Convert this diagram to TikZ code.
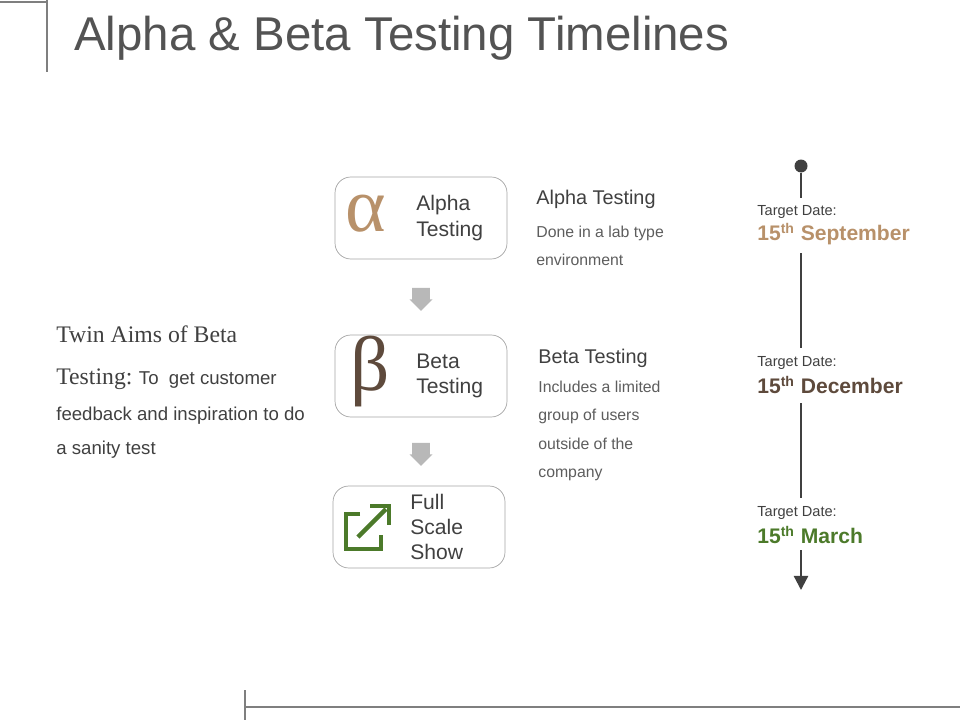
\documentclass[tikz,border=0pt]{standalone}
\usepackage{fontspec}
\setmainfont{Liberation Sans}
\newfontfamily\serifa{Liberation Serif}
\usetikzlibrary{positioning,arrows.meta,shapes.arrows}
\definecolor{alphabrown}{HTML}{B8916A}
\definecolor{betabrown}{HTML}{5E4A3C}
\definecolor{showgreen}{HTML}{4C7A2A}
\definecolor{textgray}{HTML}{404040}
\definecolor{linegray}{HTML}{7F7F7F}
\tikzset{
  stagebox/.style = {draw=linegray!70, rounded corners=9pt, minimum width=3.44cm, minimum height=1.64cm},
  stagelabel/.style = {anchor=west, align=left, font=\fontsize{12}{14.3}\selectfont, text=textgray, inner sep=0pt},
  headtext/.style = {anchor=west, font=\fontsize{11.3}{13}\selectfont, text=textgray, inner sep=0pt},
  desctext/.style = {anchor=north west, align=left, font=\fontsize{9}{16}\selectfont, text=textgray!85, inner sep=0pt},
  datesmall/.style = {anchor=west, font=\fontsize{8.3}{10}\selectfont, text=textgray, inner sep=0pt},
  datebig/.style = {anchor=west, font=\bfseries\fontsize{12}{14}\selectfont, inner sep=0pt},
  downarrow/.style = {single arrow, shape border rotate=270, fill=black!28, minimum width=0.46cm, minimum height=0.46cm, single arrow head extend=0.02cm, single arrow tip angle=90, inner sep=0.06cm},
  timeline/.style = {draw=textgray, line width=1.3pt}
}
\begin{document}
\begin{tikzpicture}[x=0.02cm, y=-0.02cm]
  \useasboundingbox (0,0) rectangle (960,720);
  % frame lines
  \draw[linegray, line width=1pt] (0,2) -- (47,2) (47,0) -- (47,72);
  \draw[linegray, line width=1pt] (245,690) -- (245,720) (245,707) -- (960,707);
  \node[anchor=west, font=\fontsize{27}{30}\selectfont, text=textgray!90, inner sep=0pt] (title) at (74,38) {Alpha \& Beta Testing Timelines};

  % stages
  \node[stagebox] (alphabox) at (421,218) {};
  \node[stagebox] (betabox) at (421,376) {};
  \node[stagebox] (showbox) at (419,527) {};
  \node[text=alphabrown, font=\serifa\fontsize{44}{44}\selectfont, inner sep=0pt] (alphasym) at (366,214) {α};
  \node[text=betabrown, font=\serifa\fontsize{44}{44}\selectfont, inner sep=0pt] (betasym) at (370,372) {β};
  \begin{scope}[showgreen, line width=2.6pt]
    \draw (360,514) -- (346,514) -- (346,549) -- (381,549) -- (381,535);
    \draw (358,537) -- (386,509);
    \draw (370,506) -- (389,506) -- (389,525);
  \end{scope}
  \node[stagelabel] (alphalabel) at (416,218) {Alpha\\Testing};
  \node[stagelabel] (betalabel) at (416,376) {Beta\\Testing};
  \node[stagelabel] (showlabel) at (410,527) {Full\\Scale\\Show};
  \node[downarrow] (arrowone) at (421,295) {};
  \node[downarrow] (arrowtwo) at (421,450) {};

  % descriptions
  \node[headtext] (alphahead) at (536,199) {Alpha Testing};
  \node[desctext] (alphadesc) at (536,226) {Done in a lab type\\environment};
  \node[headtext] (betahead) at (538,358) {Beta Testing};
  \node[desctext] (betadesc) at (538,381) {Includes a limited\\group of users\\outside of the\\company};

  % left note
  \node[anchor=west, font=\serifa\fontsize{13.5}{16}\selectfont, text=textgray, inner sep=0pt] (aimsone) at (56,334) {Twin Aims of Beta};
  \node[anchor=west, text=textgray, inner sep=0pt] (aimstwo) at (56,379) {{\serifa\fontsize{13.5}{16}\selectfont Testing:} {\fontsize{10.6}{12}\selectfont To\ \ get customer}};
  \node[desctext, font=\fontsize{10.6}{19}\selectfont, text=textgray] (aimsrest) at (56,407) {feedback and inspiration to do\\a sanity test};

  % timeline
  \node[circle, fill=textgray, minimum size=0.26cm, inner sep=0pt] (tdot) at (801,166) {};
  \coordinate (tone) at (801,198);
  \coordinate (ttwo) at (801,253);
  \coordinate (tthree) at (801,348);
  \coordinate (tfour) at (801,403);
  \coordinate (tfive) at (801,498);
  \coordinate (tsix) at (801,550);
  \coordinate (tend) at (801,590);
  \draw[timeline] (tdot) -- (tone) (ttwo) -- (tthree) (tfour) -- (tfive);
  \draw[timeline, -{Triangle[length=8pt,width=8pt]}] (tsix) -- (tend);
  \node[datesmall] (dsone) at (757,212) {Target Date:};
  \node[datebig, text=alphabrown] (dbone) at (757,234) {15\textsuperscript{th} September};
  \node[datesmall] (dstwo) at (757,363) {Target Date:};
  \node[datebig, text=betabrown] (dbtwo) at (757,385) {15\textsuperscript{th} December};
  \node[datesmall] (dsthree) at (757,513) {Target Date:};
  \node[datebig, text=showgreen] (dbthree) at (757,535) {15\textsuperscript{th} March};
\end{tikzpicture}
\end{document}
